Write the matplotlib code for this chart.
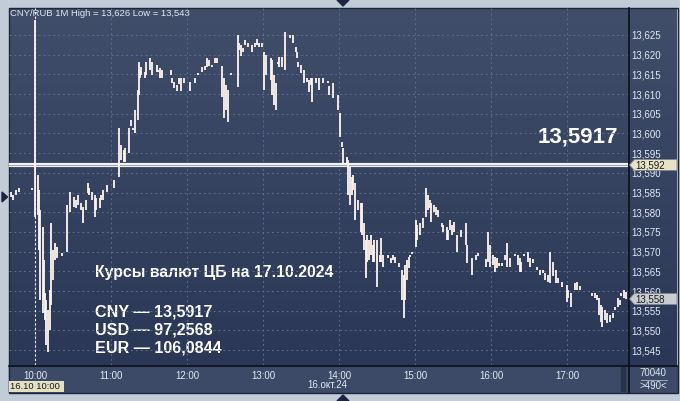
import matplotlib
matplotlib.use("Agg")
import matplotlib.pyplot as plt
import numpy as np
from matplotlib.patches import Rectangle, Polygon

plt.rcParams['font.family'] = ['Liberation Sans', 'DejaVu Sans']

# ---------------- data ----------------
times = [581, 583, 585, 587, 598, 600, 602, 603, 604, 606,
         607, 608, 609, 610, 612, 613, 614, 616, 617, 621,
         625, 628, 631, 632, 634, 636, 638, 640, 642, 643,
         645, 647, 648, 651, 652, 654, 657, 662, 666, 668,
         670, 671, 674, 676, 677, 679, 681, 682, 683, 684,
         687, 688, 691, 692, 696, 697, 699, 700, 707, 708,
         710, 712, 714, 715, 718, 722, 726, 729, 732, 734,
         736, 737, 740, 742, 744, 748, 749, 751, 752, 755,
         760, 761, 763, 764, 766, 768, 771, 774, 775, 777,
         779, 781, 782, 786, 787, 789, 790, 792, 793, 795,
         797, 801, 804, 806, 807, 808, 810, 812, 815, 816,
         818, 819, 822, 824, 827, 831, 832, 835, 839, 841,
         842, 843, 846, 847, 849, 850, 851, 853, 855, 857,
         858, 860, 861, 862, 864, 865, 867, 868, 870, 872,
         873, 875, 879, 881, 883, 884, 887, 890, 891, 892,
         894, 895, 896, 898, 901, 902, 904, 906, 909, 910,
         912, 913, 915, 917, 918, 921, 922, 925, 926, 928,
         929, 931, 933, 936, 940, 941, 945, 948, 950, 956,
         958, 959, 962, 963, 965, 966, 969, 971, 973, 975,
         979, 981, 983, 984, 986, 989, 991, 993, 996, 999,
         1001, 1003, 1005, 1007, 1009, 1011, 1013, 1016, 1020, 1021,
         1023, 1026, 1028, 1030, 1040, 1042, 1044, 1045, 1047, 1048,
         1050, 1052, 1054, 1056, 1058, 1060, 1062, 1063, 1065, 1067]

highs = [13.5851, 13.5844, 13.5856, 13.5861, 13.5861, 13.6288, 13.5894, 13.5856, 13.5806, 13.5762,
         13.5678, 13.5595, 13.5577, 13.5551, 13.5602, 13.5772, 13.5704, 13.5722, 13.5712, 13.5696,
         13.5818, 13.5851, 13.5839, 13.5831, 13.5844, 13.5823, 13.5813, 13.5831, 13.5874, 13.5861,
         13.5851, 13.5844, 13.5836, 13.5836, 13.5844, 13.5856, 13.5869, 13.5882, 13.6014, 13.5971,
         13.5958, 13.5963, 13.6014, 13.6034, 13.6014, 13.6060, 13.6110, 13.6181, 13.6161, 13.6169,
         13.6156, 13.6181, 13.6192, 13.6181, 13.6174, 13.6161, 13.6166, 13.6161, 13.6161, 13.6141,
         13.6131, 13.6123, 13.6141, 13.6141, 13.6141, 13.6131, 13.6141, 13.6153, 13.6169, 13.6171,
         13.6192, 13.6187, 13.6174, 13.6192, 13.6192, 13.6171, 13.6141, 13.6123, 13.6110, 13.6153,
         13.6250, 13.6230, 13.6225, 13.6217, 13.6237, 13.6230, 13.6225, 13.6230, 13.6240, 13.6230,
         13.6230, 13.6207, 13.6199, 13.6192, 13.6187, 13.6148, 13.6128, 13.6181, 13.6194, 13.6194,
         13.6258, 13.6250, 13.6250, 13.6220, 13.6207, 13.6181, 13.6174, 13.6161, 13.6141, 13.6136,
         13.6141, 13.6141, 13.6141, 13.6141, 13.6141, 13.6133, 13.6120, 13.6128, 13.6098, 13.6052,
         13.5978, 13.5963, 13.5940, 13.5933, 13.5915, 13.5889, 13.5894, 13.5874, 13.5831, 13.5823,
         13.5823, 13.5772, 13.5729, 13.5742, 13.5729, 13.5742, 13.5717, 13.5729, 13.5729, 13.5691,
         13.5734, 13.5691, 13.5691, 13.5684, 13.5691, 13.5686, 13.5671, 13.5653, 13.5640, 13.5666,
         13.5678, 13.5686, 13.5691, 13.5699, 13.5780, 13.5767, 13.5772, 13.5785, 13.5861, 13.5844,
         13.5831, 13.5823, 13.5818, 13.5813, 13.5806, 13.5772, 13.5767, 13.5762, 13.5755, 13.5780,
         13.5767, 13.5775, 13.5742, 13.5755, 13.5772, 13.5717, 13.5684, 13.5691, 13.5696, 13.5681,
         13.5750, 13.5717, 13.5691, 13.5686, 13.5684, 13.5671, 13.5671, 13.5691, 13.5722, 13.5684,
         13.5694, 13.5691, 13.5684, 13.5673, 13.5694, 13.5699, 13.5684, 13.5681, 13.5661, 13.5653,
         13.5653, 13.5645, 13.5640, 13.5699, 13.5673, 13.5653, 13.5633, 13.5623, 13.5615, 13.5602,
         13.5595, 13.5620, 13.5623, 13.5612, 13.5595, 13.5595, 13.5590, 13.5582, 13.5564, 13.5559,
         13.5551, 13.5544, 13.5539, 13.5544, 13.5559, 13.5582, 13.5577, 13.5595, 13.5602, 13.5597]

lows = [13.5839, 13.5831, 13.5844, 13.5851, 13.5856, 13.5788, 13.5793, 13.5704, 13.5577, 13.5544,
        13.5577, 13.5526, 13.5463, 13.5445, 13.5501, 13.5564, 13.5628, 13.5678, 13.5683, 13.5689,
        13.5699, 13.5800, 13.5813, 13.5811, 13.5818, 13.5806, 13.5772, 13.5806, 13.5849, 13.5844,
        13.5831, 13.5788, 13.5806, 13.5811, 13.5831, 13.5831, 13.5851, 13.5861, 13.5889, 13.5933,
        13.5927, 13.5927, 13.5950, 13.6019, 13.6009, 13.6001, 13.6034, 13.6098, 13.6141, 13.6148,
        13.6141, 13.6148, 13.6161, 13.6148, 13.6156, 13.6156, 13.6141, 13.6141, 13.6148, 13.6128,
        13.6115, 13.6108, 13.6126, 13.6108, 13.6128, 13.6108, 13.6128, 13.6148, 13.6156, 13.6161,
        13.6169, 13.6171, 13.6169, 13.6179, 13.6179, 13.6093, 13.6039, 13.6060, 13.6029, 13.6148,
        13.6118, 13.6212, 13.6197, 13.6207, 13.6225, 13.6220, 13.6207, 13.6220, 13.6225, 13.6220,
        13.6220, 13.6110, 13.6148, 13.6136, 13.6098, 13.6072, 13.6060, 13.6176, 13.6169, 13.6169,
        13.6161, 13.6242, 13.6230, 13.6207, 13.6192, 13.6169, 13.6153, 13.6128, 13.6131, 13.6105,
        13.6123, 13.6080, 13.6128, 13.6110, 13.6128, 13.6128, 13.6098, 13.6090, 13.6060, 13.5991,
        13.5966, 13.5920, 13.5920, 13.5844, 13.5818, 13.5844, 13.5856, 13.5780, 13.5806, 13.5750,
        13.5742, 13.5704, 13.5633, 13.5673, 13.5678, 13.5691, 13.5673, 13.5673, 13.5610, 13.5673,
        13.5673, 13.5661, 13.5684, 13.5671, 13.5678, 13.5671, 13.5661, 13.5577, 13.5531, 13.5577,
        13.5628, 13.5658, 13.5686, 13.5694, 13.5712, 13.5729, 13.5742, 13.5760, 13.5788, 13.5806,
        13.5811, 13.5775, 13.5800, 13.5793, 13.5788, 13.5762, 13.5750, 13.5729, 13.5729, 13.5755,
        13.5742, 13.5750, 13.5699, 13.5737, 13.5717, 13.5671, 13.5640, 13.5678, 13.5689, 13.5661,
        13.5673, 13.5661, 13.5666, 13.5648, 13.5658, 13.5663, 13.5663, 13.5678, 13.5661, 13.5661,
        13.5689, 13.5666, 13.5648, 13.5648, 13.5689, 13.5673, 13.5661, 13.5671, 13.5653, 13.5640,
        13.5645, 13.5628, 13.5623, 13.5620, 13.5638, 13.5620, 13.5620, 13.5610, 13.5572, 13.5582,
        13.5559, 13.5602, 13.5602, 13.5602, 13.5587, 13.5582, 13.5577, 13.5539, 13.5521, 13.5508,
        13.5526, 13.5519, 13.5521, 13.5531, 13.5551, 13.5559, 13.5564, 13.5587, 13.5582, 13.5580]

assert len(times) == len(highs) == len(lows)

cb_rate = 13.592
cb_rate_text = "13,5917"
last_price = 13.558
last_text = "13,558"
cb_tag_text = "13,592"

hour_ticks = [600, 660, 720, 780, 840, 900, 960, 1020]
hour_labels = ["10:00", "11:00", "12:00", "13:00", "14:00", "15:00", "16:00", "17:00"]
ytick_vals = [13.545, 13.550, 13.555, 13.560, 13.565, 13.570, 13.575, 13.580,
              13.585, 13.590, 13.595, 13.600, 13.605, 13.610, 13.615, 13.620, 13.625]
ytick_labels = ["13,545", "13,550", "13,555", "13,560", "13,565", "13,570", "13,575", "13,580",
                "13,585", "13,590", "13,595", "13,600", "13,605", "13,610", "13,615", "13,620", "13,625"]

title_text = "CNY/RUB 1M High = 13,626 Low = 13,543"
info_title = "Курсы валют ЦБ на 17.10.2024"
info_lines = ["CNY — 13,5917", "USD — 97,2568", "EUR — 106,0844"]
date_text = "16.окт.24"
cursor_text = "16.10 10:00"
volume_text = "70040"
bars_text = ">490<"

# ---------------- figure ----------------
W, H = 680, 401
fig = plt.figure(figsize=(W / 100, H / 100), dpi=100)

bg = fig.add_axes([0, 0, 1, 1], zorder=0)
bg.set_xlim(0, W)
bg.set_ylim(H, 0)
bg.axis('off')
bg.add_patch(Rectangle((0, 0), W, H, color='#c2ccd8', zorder=0))
g = np.linspace(0, 1, 256)[:, None, None]
top_c = np.array([64, 78, 106]) / 255
bot_c = np.array([42, 55, 86]) / 255
img = top_c[None, None, :] * (1 - g) + bot_c[None, None, :] * g
bg.imshow(img, extent=(9, 677, 366, 8), aspect='auto', interpolation='bilinear', zorder=1)
bg.add_patch(Rectangle((9, 366), 668, 26, color='#3c4a68', zorder=2))
bg.add_patch(Rectangle((621, 367), 4, 24, color='#27324c', zorder=3))
bg.add_patch(Rectangle((8.5, 7.5), 669, 385, fill=False, edgecolor='#1d2538', lw=1, zorder=4))
bg.plot([9, 677], [365.5, 365.5], color='#0b0f18', lw=1.2, zorder=4)
bg.plot([628.5, 628.5], [8, 392], color='#0b0f18', lw=1.2, zorder=4)
bg.add_patch(Polygon([(2, 192), (2, 202), (7.5, 197)], color='#1c2640', zorder=4))
bg.add_patch(Polygon([(337, 0), (349, 0), (343, 6)], color='#1c2640', zorder=4))
bg.add_patch(Polygon([(337, 401), (349, 401), (343, 395)], color='#1c2640', zorder=4))

# ---------------- main plot ----------------
ax = fig.add_axes([9 / W, (H - 365) / H, 619 / W, 357 / H], zorder=1)
ax.set_facecolor('none')
for s in ax.spines.values():
    s.set_visible(False)
ax.set_xlim(579.47, 1068.2)
ax.set_ylim(13.54124, 13.63185)

ax.set_yticks(ytick_vals)
ax.set_yticklabels(ytick_labels)
ax.yaxis.tick_right()
ax.set_xticks(hour_ticks)
ax.set_xticklabels(hour_labels)
ax.tick_params(axis='both', length=0, colors='#e2e8f2', labelsize=7)
ax.tick_params(axis='y', pad=2.5)
ax.tick_params(axis='x', pad=4.5)
ax.grid(True, color='#5d6c8b', lw=0.7, linestyle=(0, (2, 3)))

ax.axvline(600, color='#f0f0f0', lw=0.8, linestyle=(0, (2, 2)), zorder=2)
ax.axhline(cb_rate, color='#f2f2f2', lw=3.0, zorder=3)
ax.axhline(cb_rate, color='#9aa2ae', lw=0.7, zorder=3)
ax.vlines(times, lows, highs, colors='#fff5ef', lw=1.3, zorder=4)

# ---------------- texts ----------------
bg.text(10, 13, title_text, fontsize=6.8, color='#e2e8f2', va='center', ha='left', zorder=5)
bg.text(618, 137, cb_rate_text, fontsize=16, fontweight='bold', color='white',
        va='center', ha='right', zorder=5)
bg.text(95, 273, info_title, fontsize=11.4, fontweight='bold', color='white', va='center', zorder=5)
for i, line in enumerate(info_lines):
    bg.text(95, 312 + 18 * i, line, fontsize=11.6, fontweight='bold', color='white',
            va='center', zorder=5)
bg.text(327, 385, date_text, fontsize=7, color='#e2e8f2', va='center', ha='center', zorder=5)

# ---------------- overlay tags ----------------
ov = fig.add_axes([0, 0, 1, 1], zorder=3)
ov.set_xlim(0, W)
ov.set_ylim(H, 0)
ov.axis('off')
ov.set_facecolor('none')
fig.canvas.draw()


def ypix(v):
    return H - ax.transData.transform((600, v))[1]


for val, txt, col in [(cb_rate, cb_tag_text, '#e7e3c7'), (last_price, last_text, '#c9cdd2')]:
    yc = ypix(val)
    ov.add_patch(Polygon([(629.5, yc), (634.5, yc - 5.5), (677, yc - 5.5), (677, yc + 5.5),
                          (634.5, yc + 5.5)], closed=True, facecolor=col,
                         edgecolor='#7d8490', lw=0.6))
    ov.text(635.5, yc + 0.3, txt, fontsize=7, color='#1a1a1a', va='center', ha='left')

ov.add_patch(Rectangle((9, 380.5), 55, 11, facecolor='#e4e0c5', edgecolor='none'))
ov.text(10.5, 386.2, cursor_text, fontsize=6.8, color='#1a1a1a', va='center', ha='left')
ov.text(653, 373, volume_text, fontsize=7, color='#e2e8f2', va='center', ha='center')
ov.plot([641, 667], [379.5, 379.5], color='#9aa6ba', lw=0.7)
ov.text(653, 386, bars_text, fontsize=7, color='#e2e8f2', va='center', ha='center')

fig.savefig('out.png', dpi=100)
